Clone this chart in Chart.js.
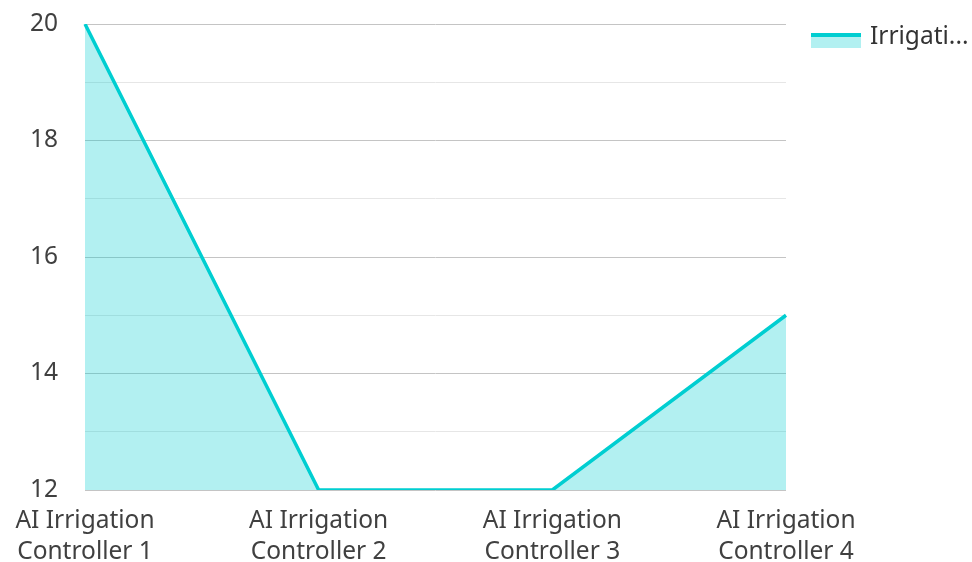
<!DOCTYPE html>
<html>
<head>
<meta charset="utf-8">
<script src="https://cdn.jsdelivr.net/npm/chart.js@4"></script>
<style>
  html, body { margin: 0; padding: 0; background: #fff; }
  .chart-container { width: 972px; height: 562px; position: relative; }
</style>
</head>
<body>
<div class="chart-container">
  <canvas id="chart"></canvas>
</div>
<script>
const categories = [
    ['AI Irrigation', 'Controller 1'],
    ['AI Irrigation', 'Controller 2'],
    ['AI Irrigation', 'Controller 3'],
    ['AI Irrigation', 'Controller 4']
];
const irrigationValues = [20, 12, 12, 15];
const seriesLabel = 'Irrigati...';

const lineColor = 'rgb(0, 206, 209)';
const fillColor = 'rgba(0, 206, 209, 0.3)';
const fontSize = 24.5;

// legend drawn by hand so the plot area keeps its width
const sideLegend = {
    id: 'sideLegend',
    afterDraw(chart) {
        const ctx = chart.ctx;
        const ds = chart.data.datasets[0];
        const x = 811, y = 33;
        ctx.save();
        ctx.fillStyle = ds.backgroundColor;
        ctx.fillRect(x, y, 50, 15);
        ctx.fillStyle = ds.borderColor;
        ctx.fillRect(x, y, 50, 4);
        ctx.fillStyle = '#333';
        ctx.font = fontSize + 'px "Noto Sans"';
        ctx.textBaseline = 'middle';
        ctx.fillText(ds.label, x + 59, y + 4);
        ctx.restore();
    }
};

const config = {
    type: 'line',
    data: {
        labels: categories,
        datasets: [{
            label: seriesLabel,
            data: irrigationValues,
            fill: 'start',
            borderColor: lineColor,
            backgroundColor: fillColor,
            borderWidth: 3.5,
            pointRadius: 0,
            tension: 0
        }]
    },
    options: {
        animation: false,
        responsive: true,
        maintainAspectRatio: false,
        layout: {
            padding: { left: 31, right: 186, top: 0, bottom: 0 }
        },
        scales: {
            x: {
                offset: false,
                grid: { display: false, drawTicks: false },
                border: { display: false },
                afterFit: (scale) => { scale.height = 72; },
                ticks: {
                    color: '#404040',
                    padding: 15,
                    maxRotation: 0,
                    autoSkip: false,
                    font: { family: 'Noto Sans', size: fontSize, lineHeight: 1.27 }
                }
            },
            y: {
                min: 12,
                max: 20,
                grid: {
                    drawTicks: false,
                    lineWidth: 1,
                    color: (c) => (c.tick && c.tick.value % 2 === 0) ? '#c4c4c4' : '#e6e6e6'
                },
                border: { display: false },
                afterFit: (scale) => {
                    scale.width = 54;
                    scale.paddingTop = 24;
                    scale.paddingBottom = 0;
                },
                ticks: {
                    stepSize: 1,
                    color: '#404040',
                    padding: 27,
                    font: { family: 'Noto Sans', size: fontSize },
                    callback: (v) => v % 2 === 0 ? v : ''
                }
            }
        },
        plugins: {
            legend: { display: false },
            tooltip: { enabled: false }
        }
    },
    plugins: [sideLegend]
};

new Chart(document.getElementById('chart'), config);
</script>
</body>
</html>
